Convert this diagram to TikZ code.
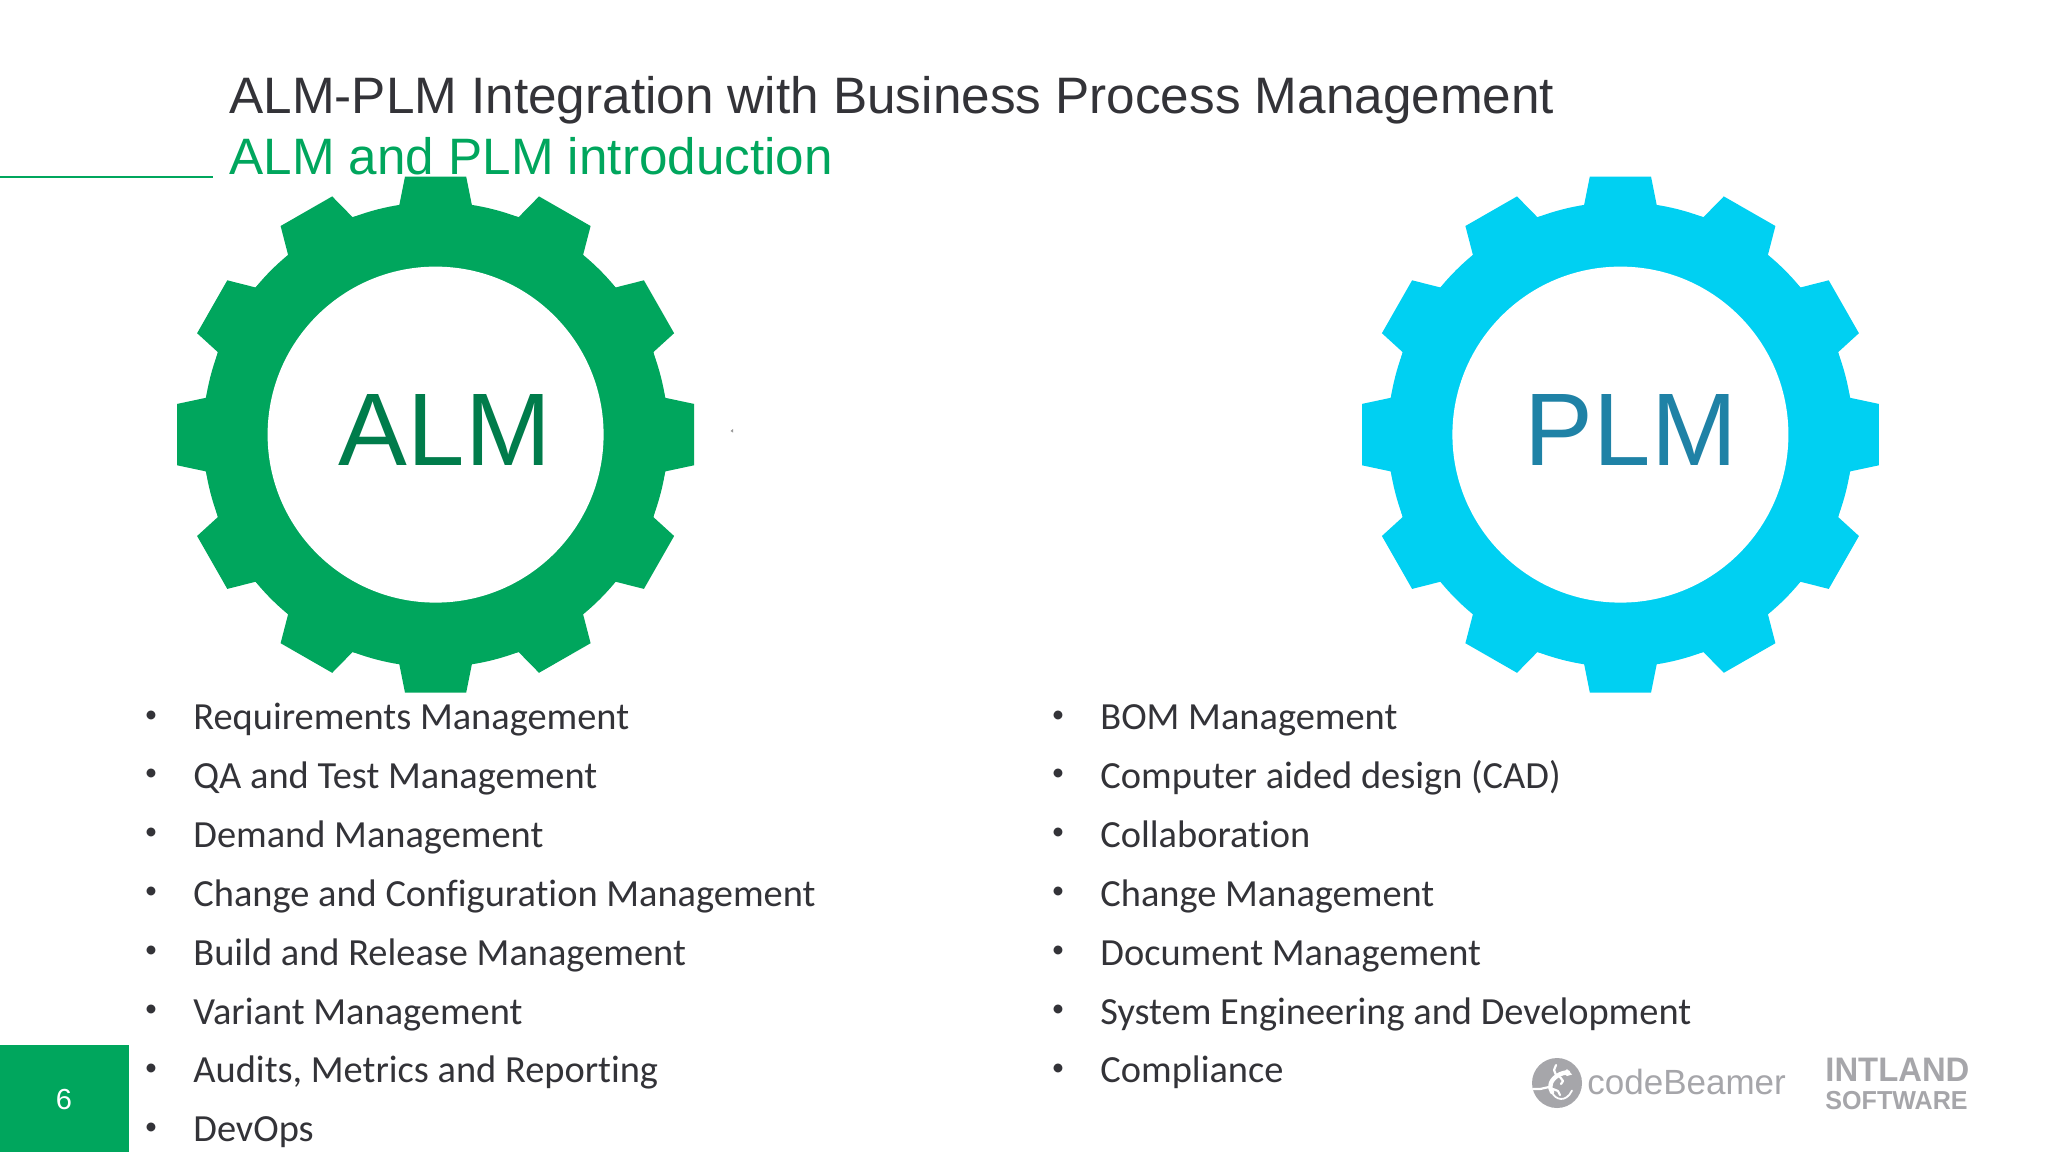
\documentclass[tikz,border=0pt]{standalone}
\usepackage{fontspec}
\setmainfont{Liberation Sans}
\newfontfamily\bodyfont[Ligatures=NoCommon]{Carlito}
\definecolor{brandgreen}{HTML}{00A65D}
\definecolor{brandcyan}{HTML}{00D0F2}
\definecolor{almtext}{HTML}{007C4B}
\definecolor{plmtext}{HTML}{1F82A6}
\definecolor{inkdark}{HTML}{333338}
\definecolor{logogray}{HTML}{A6A6AA}
\newcommand{\fsz}[1]{\fontsize{#1}{#1}\selectfont}
\newcommand{\gearpoly}{%
(30.6,-258)--(36.4,-229)--(83.1,-217.5)--(103.4,-238.2)--(155,-208.6)--(147.4,-179.3)--(179.9,-147.1)--(208.3,-154.3)--(238.5,-101.4)--(217.8,-82.5)--(229.7,-36.8)--(258.4,-30.7)--%
(258.4,30.7)--(229.7,36.8)--(217.8,82.5)--(238.5,101.4)--(208.3,154.3)--(179.9,147.1)--(147.4,179.3)--(155,208.6)--(103.4,238.2)--(83.1,217.5)--(36.4,229)--(30.6,258)--%
(-30.6,258)--(-36.4,229)--(-83.1,217.5)--(-103.4,238.2)--(-155,208.6)--(-147.4,179.3)--(-179.9,147.1)--(-208.3,154.3)--(-238.5,101.4)--(-217.8,82.5)--(-229.7,36.8)--(-258.4,30.7)--%
(-258.4,-30.7)--(-229.7,-36.8)--(-217.8,-82.5)--(-238.5,-101.4)--(-208.3,-154.3)--(-179.9,-147.1)--(-147.4,-179.3)--(-155,-208.6)--(-103.4,-238.2)--(-83.1,-217.5)--(-36.4,-229)--(-30.6,-258)--cycle}
\tikzset{
  x=0.5pt,y=-0.5pt,
  titletext/.style={anchor=base west,inner sep=0pt,font=\fsz{25.63},text=inkdark},
  subtext/.style={anchor=base west,inner sep=0pt,font=\fsz{25.6},text=brandgreen},
  geartext/.style={anchor=base,inner sep=0pt,font=\fsz{51.6}},
  item/.style={anchor=base west,inner sep=0pt,font=\bodyfont\fsz{19.2},text=inkdark},
  bulletmark/.style={anchor=base,inner sep=0pt,font=\bodyfont\fsz{12.5},text=inkdark},
  logotext/.style={anchor=base west,inner sep=0pt,text=logogray},
  geckoline/.style={draw=white,line cap=round,line join=round},
}
\newcommand{\gear}[2]{%
  \begin{scope}[shift={(#1,434.6)}]
    \fill[#2] \gearpoly;
    \fill[#2] (0,0) circle[radius=116.25pt];
    \fill[white] (0,0) circle[radius=84pt];
  \end{scope}}
\newcommand{\itemrow}[4]{% column letter, bullet x, index, text
  \pgfmathsetmacro{\rowy}{729.5+58.9*#3}
  \pgfmathsetmacro{\bully}{\rowy-7.5}
  \pgfmathsetmacro{\rowx}{#2+42}
  \node[bulletmark] (b#1#3) at (#2,\bully) {•};
  \node[item] (t#1#3) at (\rowx,\rowy) {#4};}
\begin{document}
\begin{tikzpicture}
\useasboundingbox (0,0) rectangle (2048,1152);
\fill[white] (0,0) rectangle (2048,1152);
\draw[brandgreen,line width=1.2pt] (0,176.7) -- (213,176.7);
\node[titletext] (title) at (229,113) {ALM-PLM Integration with Business Process Management};
\node[subtext] (subtitle) at (229,174) {ALM and PLM introduction};
\gear{435.6}{brandgreen}
\gear{1620.4}{brandcyan}
\node[geartext,text=almtext] (alm) at (445,465) {ALM};
\node[geartext,text=plmtext] (plm) at (1631,465) {PLM};
\fill[gray!80] (733,429) -- (733,432.5) -- (730.5,431) -- cycle;
\itemrow{L}{151}{0}{Requirements Management}
\itemrow{L}{151}{1}{QA and Test Management}
\itemrow{L}{151}{2}{Demand Management}
\itemrow{L}{151}{3}{Change and Configuration Management}
\itemrow{L}{151}{4}{Build and Release Management}
\itemrow{L}{151}{5}{Variant Management}
\itemrow{L}{151}{6}{Audits, Metrics and Reporting}
\itemrow{L}{151}{7}{DevOps}
\itemrow{R}{1058}{0}{BOM Management}
\itemrow{R}{1058}{1}{Computer aided design (CAD)}
\itemrow{R}{1058}{2}{Collaboration}
\itemrow{R}{1058}{3}{Change Management}
\itemrow{R}{1058}{4}{Document Management}
\itemrow{R}{1058}{5}{System Engineering and Development}
\itemrow{R}{1058}{6}{Compliance}
\fill[brandgreen] (0,1045) rectangle (129,1152);
\node[inner sep=0pt,font=\fsz{14.5},text=white] (page) at (64,1099) {6};
% logo
\fill[logogray] (1557,1083) circle[radius=12.5pt];
\begin{scope}[shift={(1557,1083)}]
  \draw[geckoline,line width=2.2pt] (11,-10.5) .. controls (5,-11) and (-4,-6) .. (-6,0) .. controls (-7,4) and (-7,6) .. (-5,9);
  \fill[white] (15,-8.5) -- (10,-14) -- (6,-10) -- (10,-7) -- cycle;
  \draw[geckoline,line width=0.9pt] (-5,9) .. controls (-2,17) and (9,20) .. (15,7.5);
  \draw[geckoline,line width=1.1pt] (-1,-8) -- (-3,-13) -- (-1,-18);
  \draw[geckoline,line width=1.1pt] (-8,4) -- (-17,6) -- (-24,6);
  \draw[geckoline,line width=1.1pt] (-4,6) -- (1,8) -- (3,12);
  \draw[geckoline,line width=1.1pt] (3,-6) -- (6,-2) -- (4,1);
\end{scope}
\node[logotext,font=\fsz{17.5}] (cb) at (1587,1094) {codeBeamer};
\node[logotext,font=\bfseries\fsz{17},xscale=0.965] (intland) at (1825,1081) {INTLAND};
\node[logotext,font=\bfseries\fsz{13},xscale=0.965] (software) at (1825,1109) {SOFTWARE};
\end{tikzpicture}
\end{document}
